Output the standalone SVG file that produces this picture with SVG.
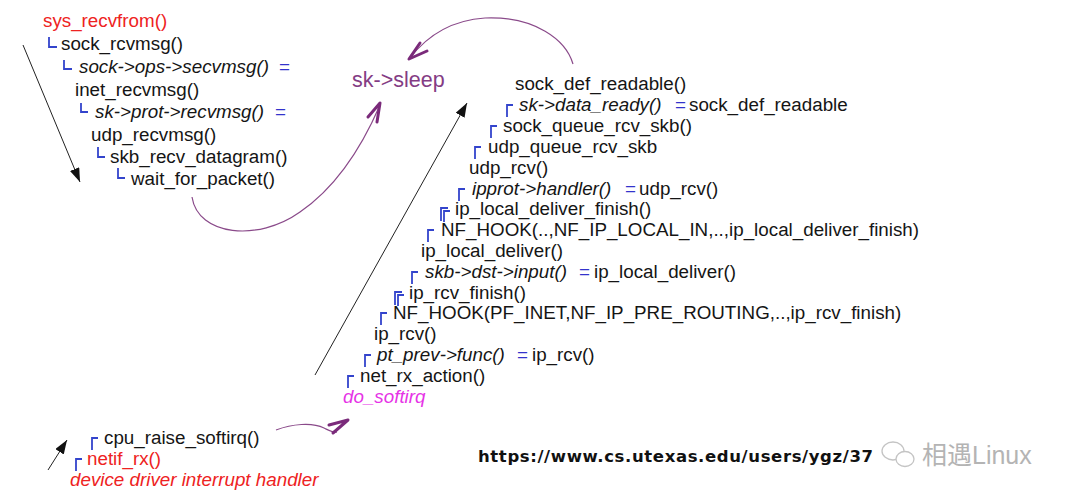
<svg xmlns="http://www.w3.org/2000/svg" width="1080" height="500" viewBox="0 0 1080 500">
<defs>
<style>
.t{font-family:"Liberation Sans",Arial,sans-serif;font-size:18.8px;fill:#151515}
.i{font-style:italic}
.r{fill:#ee2222}
.mg{fill:#e633e6}
.eq{fill:#3333cc;font-style:normal}
.mk{fill:none;stroke:#3344cc;stroke-width:1.8}
.cv{fill:none;stroke:#8a4a8a;stroke-width:1.2}
.ah{fill:none;stroke:#7a2a7a;stroke-width:3;stroke-linecap:round;stroke-linejoin:round}
.ln{fill:none;stroke:#222;stroke-width:1;marker-end:url(#arr)}
.url{font-family:"DejaVu Sans",Verdana,sans-serif;font-weight:bold;font-size:16.5px;fill:#111}
.wm{font-family:"Liberation Sans","Noto Sans CJK SC",sans-serif;font-size:25px;fill:#b4b4b4}
</style>
<marker id="arr" markerUnits="userSpaceOnUse" markerWidth="14" markerHeight="10" refX="14" refY="5" orient="auto"><path d="M0,0 L14,5 L0,10 z" fill="#111"/></marker>
</defs>
<rect width="1080" height="500" fill="#fff"/>

<g id="connectors">
<line class="ln" x1="23" y1="45" x2="80" y2="182"/>
<line class="ln" x1="315" y1="375" x2="467" y2="103"/>
<line class="ln" x1="48" y1="470" x2="67" y2="440"/>
<path class="cv" d="M573,64 C566,40 535,16 485,18 C455,20 430,32 410,58"/>
<polyline class="ah" points="420,43 409,59 427,51"/>
<path class="cv" d="M192,197 C198,236 258,242 300,212 C338,186 364,142 380,105"/>
<polyline class="ah" points="368,117 380,103 377,122"/>
<path class="cv" d="M276,430 C292,424 312,422 324,428 C330,431 333,433 337,432"/>
<polyline class="ah" points="329,425 348,420 333,433"/>
</g>

<g id="sys_recvfrom"><text class="t r" x="43" y="27">sys_recvfrom()</text></g>
<g id="sock_rcvmsg"><path class="mk" d="M49,37 V47 H57"/><text class="t" x="61" y="50">sock_rcvmsg()</text></g>
<g id="sock_ops_secvmsg"><path class="mk" d="M64,60 V69 H72"/><text class="t i" x="79" y="73">sock-&gt;ops-&gt;secvmsg()</text><text class="t eq" x="279" y="73">=</text></g>
<g id="inet_recvmsg"><text class="t" x="75" y="96">inet_recvmsg()</text></g>
<g id="sk_prot_recvmsg"><path class="mk" d="M81,103 V112 H88"/><text class="t i" x="95" y="118">sk-&gt;prot-&gt;recvmsg()</text><text class="t eq" x="275" y="118">=</text></g>
<g id="udp_recvmsg"><text class="t" x="91" y="141">udp_recvmsg()</text></g>
<g id="skb_recv_datagram"><path class="mk" d="M98,147 V157 H105"/><text class="t" x="110" y="163">skb_recv_datagram()</text></g>
<g id="wait_for_packet"><path class="mk" d="M118,168 V178 H125"/><text class="t" x="131" y="185">wait_for_packet()</text></g>

<g id="sk_sleep"><text x="352" y="87" style="font-family:'Liberation Sans',Arial,sans-serif;font-size:21.5px;fill:#843c84">sk-&gt;sleep</text></g>

<g id="sock_def_readable"><text class="t" x="515" y="90">sock_def_readable()</text></g>
<g id="sk_data_ready"><path class="mk" d="M507,117 V105 H513"/><text class="t i" x="519" y="111">sk-&gt;data_ready()</text><text class="t eq" x="675" y="111">=</text><text class="t" x="689" y="111">sock_def_readable</text></g>
<g id="sock_queue_rcv_skb"><path class="mk" d="M491,138 V126 H497"/><text class="t" x="503" y="132">sock_queue_rcv_skb()</text></g>
<g id="udp_queue_rcv_skb"><path class="mk" d="M475,159 V147 H481"/><text class="t" x="488" y="153">udp_queue_rcv_skb</text></g>
<g id="udp_rcv"><text class="t" x="469" y="174">udp_rcv()</text></g>
<g id="ipprot_handler"><path class="mk" d="M459,201 V189 H465"/><text class="t i" x="472" y="195">ipprot-&gt;handler()</text><text class="t eq" x="625" y="195">=</text><text class="t" x="639" y="195">udp_rcv()</text></g>
<g id="ip_local_deliver_finish"><path class="mk" d="M441,221 V208 H448"/><path class="mk" d="M444,222 V211 H450"/><text class="t" x="455" y="215">ip_local_deliver_finish()</text></g>
<g id="nf_hook_local_in"><path class="mk" d="M428,242 V230 H434"/><text class="t" x="441" y="236">NF_HOOK(..,NF_IP_LOCAL_IN,..,ip_local_deliver_finish)</text></g>
<g id="ip_local_deliver"><text class="t" x="421" y="257">ip_local_deliver()</text></g>
<g id="skb_dst_input"><path class="mk" d="M412,284 V272 H418"/><text class="t i" x="425" y="278">skb-&gt;dst-&gt;input()</text><text class="t eq" x="579" y="278">=</text><text class="t" x="594" y="278">ip_local_deliver()</text></g>
<g id="ip_rcv_finish"><path class="mk" d="M395,305 V292 H402"/><path class="mk" d="M398,306 V295 H404"/><text class="t" x="409" y="299">ip_rcv_finish()</text></g>
<g id="nf_hook_pre_routing"><path class="mk" d="M381,325 V313 H387"/><text class="t" x="393" y="319">NF_HOOK(PF_INET,NF_IP_PRE_ROUTING,..,ip_rcv_finish)</text></g>
<g id="ip_rcv"><text class="t" x="374" y="340">ip_rcv()</text></g>
<g id="pt_prev_func"><path class="mk" d="M365,367 V355 H371"/><text class="t i" x="377" y="361">pt_prev-&gt;func()</text><text class="t eq" x="517" y="361">=</text><text class="t" x="532" y="361">ip_rcv()</text></g>
<g id="net_rx_action"><path class="mk" d="M348,388 V376 H354"/><text class="t" x="360" y="382">net_rx_action()</text></g>
<g id="do_softirq"><text class="t i mg" x="343" y="403">do_softirq</text></g>

<g id="cpu_raise_softirq"><path class="mk" d="M92,450 V438 H98"/><text class="t" x="104" y="444">cpu_raise_softirq()</text></g>
<g id="netif_rx"><path class="mk" d="M76,471 V459 H82"/><text class="t r" x="87" y="465">netif_rx()</text></g>
<g id="device_driver"><text class="t i r" x="70" y="486">device driver interrupt handler</text></g>

<g id="url"><text class="url" x="478" y="462" textLength="395" lengthAdjust="spacing">https://www.cs.utexas.edu/users/ygz/37</text></g>
<g id="watermark">
<ellipse cx="893" cy="451" rx="11" ry="9" fill="#fff" stroke="#c4c4c4" stroke-width="1.3"/>
<ellipse cx="905" cy="459" rx="9" ry="7.5" fill="#fff" stroke="#c4c4c4" stroke-width="1.3"/>
<text class="wm" x="922" y="464">相遇Linux</text>
</g>
</svg>
